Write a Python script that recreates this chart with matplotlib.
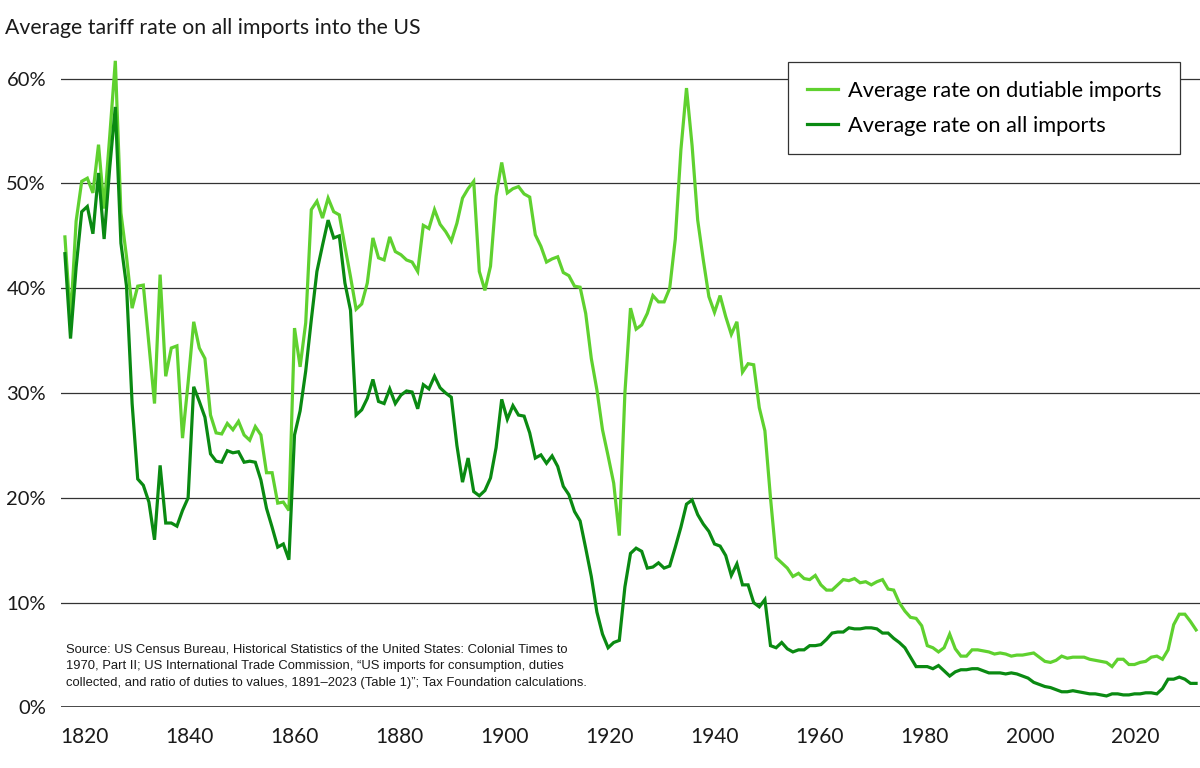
import matplotlib
matplotlib.use('Agg')
import matplotlib.pyplot as plt
import numpy as np

plt.rcParams['font.family'] = ['Lato', 'DejaVu Sans']

# years 1821-2023
years = np.arange(1821, 2024)

# average rate on dutiable imports (%)
dutiable = [
    44.9, 37.0, 46.4, 50.2, 50.5, 49.1, 53.7, 47.6, 54.5, 61.7,   # 1821-1830
    47.2, 43.0, 38.1, 40.2, 40.3, 34.6, 29.0, 41.3, 31.6, 34.3,   # 1831-1840
    34.5, 25.7, 31.0, 36.8, 34.3, 33.3, 27.9, 26.2, 26.1, 27.1,   # 1841-1850
    26.5, 27.3, 26.0, 25.5, 26.8, 26.0, 22.4, 22.4, 19.5, 19.6,   # 1851-1860
    18.8, 36.2, 32.5, 36.7, 47.5, 48.3, 46.7, 48.6, 47.3, 47.0,   # 1861-1870
    44.0, 41.1, 38.0, 38.5, 40.5, 44.8, 42.9, 42.7, 44.9, 43.5,   # 1871-1880
    43.2, 42.7, 42.5, 41.6, 46.0, 45.7, 47.5, 46.1, 45.4, 44.5,   # 1881-1890
    46.2, 48.6, 49.5, 50.2, 41.6, 39.8, 42.1, 48.8, 52.0, 49.1,   # 1891-1900
    49.5, 49.7, 49.0, 48.7, 45.1, 44.0, 42.5, 42.8, 43.0, 41.5,   # 1901-1910
    41.2, 40.2, 40.1, 37.6, 33.3, 30.3, 26.5, 24.0, 21.4, 16.4,   # 1911-1920
    30.0, 38.1, 36.1, 36.5, 37.6, 39.3, 38.7, 38.7, 40.0, 44.7,   # 1921-1930
    53.2, 59.1, 53.6, 46.5, 42.7, 39.2, 37.7, 39.3, 37.3, 35.6,   # 1931-1940
    36.8, 32.0, 32.8, 32.7, 28.6, 26.4, 20.0, 14.3, 13.8, 13.3,   # 1941-1950
    12.5, 12.8, 12.3, 12.2, 12.6, 11.7, 11.2, 11.2, 11.7, 12.2,   # 1951-1960
    12.1, 12.3, 11.9, 12.0, 11.7, 12.0, 12.2, 11.3, 11.2, 10.0,   # 1961-1970
    9.2, 8.6, 8.5, 7.8, 5.9, 5.7, 5.3, 5.7, 7.0, 5.6,             # 1971-1980
    4.9, 4.9, 5.5, 5.5, 5.4, 5.3, 5.1, 5.2, 5.1, 4.9,             # 1981-1990
    5.0, 5.0, 5.1, 5.2, 4.8, 4.4, 4.3, 4.5, 4.9, 4.7,             # 1991-2000
    4.8, 4.8, 4.8, 4.6, 4.5, 4.4, 4.3, 3.9, 4.6, 4.6,             # 2001-2010
    4.1, 4.1, 4.3, 4.4, 4.8, 4.9, 4.6, 5.5, 7.9, 8.9,             # 2011-2020
    8.9, 8.2, 7.4,                                                # 2021-2023
]

# average rate on all imports (%)
all_imports = [
    43.3, 35.2, 42.0, 47.3, 47.8, 45.2, 51.0, 44.7, 51.5, 57.3,   # 1821-1830
    44.3, 40.2, 29.0, 21.8, 21.2, 19.6, 16.0, 23.1, 17.6, 17.6,   # 1831-1840
    17.3, 18.8, 20.0, 30.6, 29.2, 27.7, 24.2, 23.5, 23.4, 24.5,   # 1841-1850
    24.3, 24.4, 23.4, 23.5, 23.4, 21.7, 19.0, 17.2, 15.3, 15.6,   # 1851-1860
    14.1, 26.0, 28.3, 32.1, 37.0, 41.6, 44.1, 46.5, 44.8, 45.0,   # 1861-1870
    40.5, 37.9, 27.9, 28.4, 29.5, 31.3, 29.2, 29.0, 30.4, 29.0,   # 1871-1880
    29.8, 30.2, 30.1, 28.5, 30.8, 30.4, 31.6, 30.5, 30.0, 29.6,   # 1881-1890
    25.0, 21.5, 23.8, 20.6, 20.2, 20.7, 21.9, 24.8, 29.4, 27.5,   # 1891-1900
    28.8, 27.9, 27.8, 26.2, 23.8, 24.1, 23.3, 24.0, 23.0, 21.1,   # 1901-1910
    20.3, 18.7, 17.8, 15.2, 12.5, 9.1, 7.0, 5.7, 6.2, 6.4,        # 1911-1920
    11.5, 14.7, 15.2, 14.9, 13.3, 13.4, 13.8, 13.3, 13.5, 15.3,   # 1921-1930
    17.2, 19.4, 19.8, 18.4, 17.5, 16.8, 15.6, 15.4, 14.5, 12.6,   # 1931-1940
    13.7, 11.7, 11.7, 10.0, 9.6, 10.3, 5.9, 5.7, 6.2, 5.6,        # 1941-1950
    5.3, 5.5, 5.5, 5.9, 5.9, 6.0, 6.5, 7.1, 7.2, 7.2,             # 1951-1960
    7.6, 7.5, 7.5, 7.6, 7.6, 7.5, 7.1, 7.1, 6.6, 6.2,             # 1961-1970
    5.7, 4.8, 3.9, 3.9, 3.9, 3.7, 4.0, 3.5, 3.0, 3.4,             # 1971-1980
    3.6, 3.6, 3.7, 3.7, 3.5, 3.3, 3.3, 3.3, 3.2, 3.3,             # 1981-1990
    3.2, 3.0, 2.8, 2.4, 2.2, 2.0, 1.9, 1.7, 1.5, 1.5,             # 1991-2000
    1.6, 1.5, 1.4, 1.3, 1.3, 1.2, 1.1, 1.3, 1.3, 1.2,             # 2001-2010
    1.2, 1.3, 1.3, 1.4, 1.4, 1.3, 1.8, 2.7, 2.7, 2.9,             # 2011-2020
    2.7, 2.3, 2.3,                                                # 2021-2023
]

tick_labels = ['1820', '1840', '1860', '1880', '1900', '1920',
               '1940', '1960', '1980', '2000', '2020']
# the source chart spaces its year labels a little tighter than the data,
# so the labels sit where they appear there
tick_pos = np.linspace(1824.4, 2012.1, len(tick_labels))
y_ticks = [0, 10, 20, 30, 40, 50, 60]

light = '#5fd12f'
dark = '#0a8a12'

fig = plt.figure(figsize=(12, 7.68), dpi=100)
ax = fig.add_axes([61 / 1200, 0.0788, 1 - 61 / 1200, 0.8461])

ax.plot(years, dutiable, color=light, lw=2.3, label='Average rate on dutiable imports',
        solid_joinstyle='miter', zorder=3)
ax.plot(years, all_imports, color=dark, lw=2.3, label='Average rate on all imports',
        solid_joinstyle='miter', zorder=4)

ax.set_xlim(1820.3, 2023.7)
ax.set_ylim(0, 62)

ax.set_yticks(y_ticks)
ax.set_yticklabels([f'{v}%' for v in y_ticks])
ax.set_xticks(tick_pos)
ax.set_xticklabels(tick_labels)
ax.tick_params(axis='both', length=0, colors='#1a1a1a')
ax.tick_params(axis='y', pad=10.8, labelsize=14.5)
ax.tick_params(axis='x', pad=14, labelsize=15)

for v in y_ticks[1:]:
    ax.axhline(v, color='#333333', lw=0.9, zorder=1)
ax.axhline(0, color='#111111', lw=1.8, zorder=5)

for s in ax.spines.values():
    s.set_visible(False)

leg = ax.legend(loc='upper right', bbox_to_anchor=(1180 / 1200, 1 - 62 / 768),
                bbox_transform=fig.transFigure, borderaxespad=0, fontsize=15.7,
                fancybox=False, framealpha=1, edgecolor='#333333',
                handlelength=1.45, handletextpad=0.45, labelspacing=0.7,
                borderpad=0.85)
leg.get_frame().set_linewidth(0.9)
leg.set_zorder(10)

fig.text(5 / 1200, 1 - 28 / 768, 'Average tariff rate on all imports into the US',
         fontsize=15.3, va='center', ha='left', color='#1a1a1a')

source = ('Source: US Census Bureau, Historical Statistics of the United States: Colonial Times to\n'
          '1970, Part II; US International Trade Commission, \u201cUS imports for consumption, duties\n'
          'collected, and ratio of duties to values, 1891\u20132023 (Table 1)\u201d; Tax Foundation calculations.')
fig.text(66 / 1200, 1 - 644 / 768, source, fontsize=9.35,
         family='Liberation Sans', va='top', ha='left', linespacing=1.5, color='#1a1a1a',
         zorder=6)

fig.savefig('out.png', dpi=100)
